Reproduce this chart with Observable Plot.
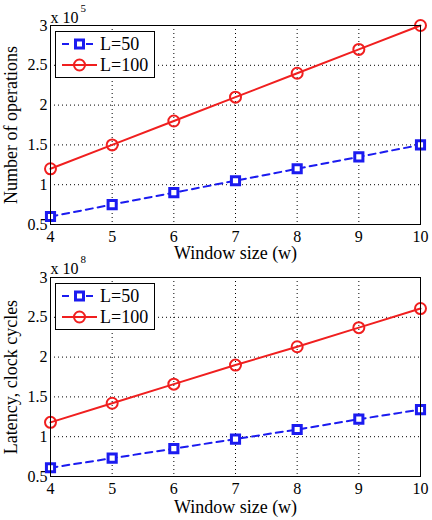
<!DOCTYPE html>
<html><head>
<meta charset="utf-8">
<script src="https://cdn.jsdelivr.net/npm/d3@7"></script>
<script src="https://cdn.jsdelivr.net/npm/@observablehq/plot@0.6"></script>
<style>
body{margin:0;background:#fff;font-family:"Liberation Serif","Times New Roman",serif;}
#wrap{position:relative;width:432px;height:520px;overflow:hidden;}
.panel{position:relative;width:432px;}
.legend{position:absolute;left:55px;}
svg.plot{overflow:visible;background:transparent;}
svg text{font-family:"Liberation Serif","Times New Roman",serif;}
</style>
</head><body><div id="wrap"></div>
<script>
const windowSizes = [4, 5, 6, 7, 8, 9, 10];
const seriesNames = ["L=50", "L=100"];
const opsL50 = [0.6, 0.75, 0.9, 1.05, 1.2, 1.35, 1.5];
const opsL100 = [1.2, 1.5, 1.8, 2.1, 2.4, 2.7, 3.0];
const latL50 = [0.61, 0.73, 0.85, 0.97, 1.09, 1.22, 1.34];
const latL100 = [1.18, 1.42, 1.66, 1.90, 2.13, 2.37, 2.61];
const xTicks = [4, 5, 6, 7, 8, 9, 10];
const yTicks = [0.5, 1, 1.5, 2, 2.5, 3];
const yTickLabels = ["0.5", "1", "1.5", "2", "2.5", "3"];
const panelInfo = [
  {ylabel: "Number of operations", exp: "5", l50: opsL50, l100: opsL100},
  {ylabel: "Latency, clock cycles", exp: "8", l50: latL50, l100: latL100}
];
const BLUE = "#1b1bf0", RED = "#f01f1f";
const FONT = "'Liberation Serif', 'Times New Roman', serif";

function makePanel(info, layout) {
  const rows = windowSizes.flatMap((w, i) => [
    {w, v: info.l50[i], s: seriesNames[0]},
    {w, v: info.l100[i], s: seriesNames[1]}
  ]);
  const a = rows.filter(d => d.s === seriesNames[0]);
  const b = rows.filter(d => d.s === seriesNames[1]);
  return Plot.plot({
    width: 432,
    height: layout.height,
    marginLeft: 50,
    marginRight: 12,
    marginTop: layout.top,
    marginBottom: layout.bottom,
    style: {fontFamily: FONT, fontSize: "16px", color: "#000", background: "transparent", overflow: "visible"},
    x: {domain: [4, 10], ticks: xTicks, tickSize: 0, tickPadding: 6, label: null, tickFormat: d => String(d)},
    y: {domain: [0.5, 3], ticks: yTicks, tickSize: 0, tickPadding: 3, label: null,
        tickFormat: d => yTickLabels[yTicks.indexOf(d)]},
    marks: [
      Plot.ruleX(xTicks, {stroke: "#000", strokeWidth: 1, strokeDasharray: "1,3"}),
      Plot.ruleY(yTicks, {stroke: "#000", strokeWidth: 1, strokeDasharray: "1,3"}),
      Plot.line(a, {x: "w", y: "v", stroke: BLUE, strokeWidth: 2, strokeDasharray: "7,5"}),
      Plot.line(b, {x: "w", y: "v", stroke: RED, strokeWidth: 2}),
      Plot.dot(a, {x: "w", y: "v", symbol: "square", r: 4.6, stroke: BLUE, strokeWidth: 3, fill: "white"}),
      Plot.dot(b, {x: "w", y: "v", symbol: "circle", r: 5.5, stroke: RED, strokeWidth: 2, fill: "none"}),
      Plot.frame({stroke: "#000", strokeWidth: 1}),
      Plot.text(["Window size (w)"], {frameAnchor: "bottom", lineAnchor: "middle", dy: layout.xlab, fontSize: 18, fill: "#000"}),
      Plot.text([info.ylabel], {frameAnchor: "left", lineAnchor: "middle", textAnchor: "middle", dx: -39, rotate: -90, fontSize: 18, fill: "#000"}),
      Plot.text(["x 10"], {frameAnchor: "top-left", textAnchor: "start", lineAnchor: "middle", dy: layout.expDy, dx: 0, fontSize: 16, fill: "#000"}),
      Plot.text([info.exp], {frameAnchor: "top-left", textAnchor: "start", lineAnchor: "middle", dy: layout.expDy - 9, dx: 30, fontSize: 11, fill: "#000"})
    ]
  });
}

function makeLegend(topPx) {
  const svg = d3.create("svg").attr("class", "legend").attr("width", 100).attr("height", 47)
    .style("top", topPx + "px");
  svg.append("rect").attr("x", 0.5).attr("y", 0.5).attr("width", 99).attr("height", 46)
    .attr("fill", "white").attr("stroke", "#000").attr("stroke-width", 1);
  const items = [
    {name: seriesNames[0], color: BLUE, dash: "7,5", sym: "square"},
    {name: seriesNames[1], color: RED, dash: null, sym: "circle"}
  ];
  items.forEach((it, i) => {
    const cy = 13 + i * 21;
    svg.append("line").attr("x1", 7).attr("x2", 42).attr("y1", cy).attr("y2", cy)
      .attr("stroke", it.color).attr("stroke-width", 2).attr("stroke-dasharray", it.dash);
    if (it.sym === "square") {
      svg.append("rect").attr("x", 24.5 - 4).attr("y", cy - 4).attr("width", 8).attr("height", 8)
        .attr("fill", "white").attr("stroke", it.color).attr("stroke-width", 3);
    } else {
      svg.append("circle").attr("cx", 24.5).attr("cy", cy).attr("r", 5.5)
        .attr("fill", "none").attr("stroke", it.color).attr("stroke-width", 2);
    }
    svg.append("text").attr("x", 45).attr("y", cy).attr("dy", "0.35em")
      .attr("font-family", FONT).attr("font-size", 18).text(it.name);
  });
  return svg.node();
}

const wrap = document.getElementById("wrap");
const layouts = [
  {height: 260, top: 25, bottom: 36, xlab: 29, legendTop: 31, expDy: -8},
  {height: 260, top: 17, bottom: 44, xlab: 31, legendTop: 23, expDy: -9}
];
panelInfo.forEach((info, k) => {
  const div = document.createElement("div");
  div.className = "panel";
  div.style.height = layouts[k].height + "px";
  div.appendChild(makePanel(info, layouts[k]));
  div.appendChild(makeLegend(layouts[k].legendTop));
  wrap.appendChild(div);
});
</script>
</body></html>
